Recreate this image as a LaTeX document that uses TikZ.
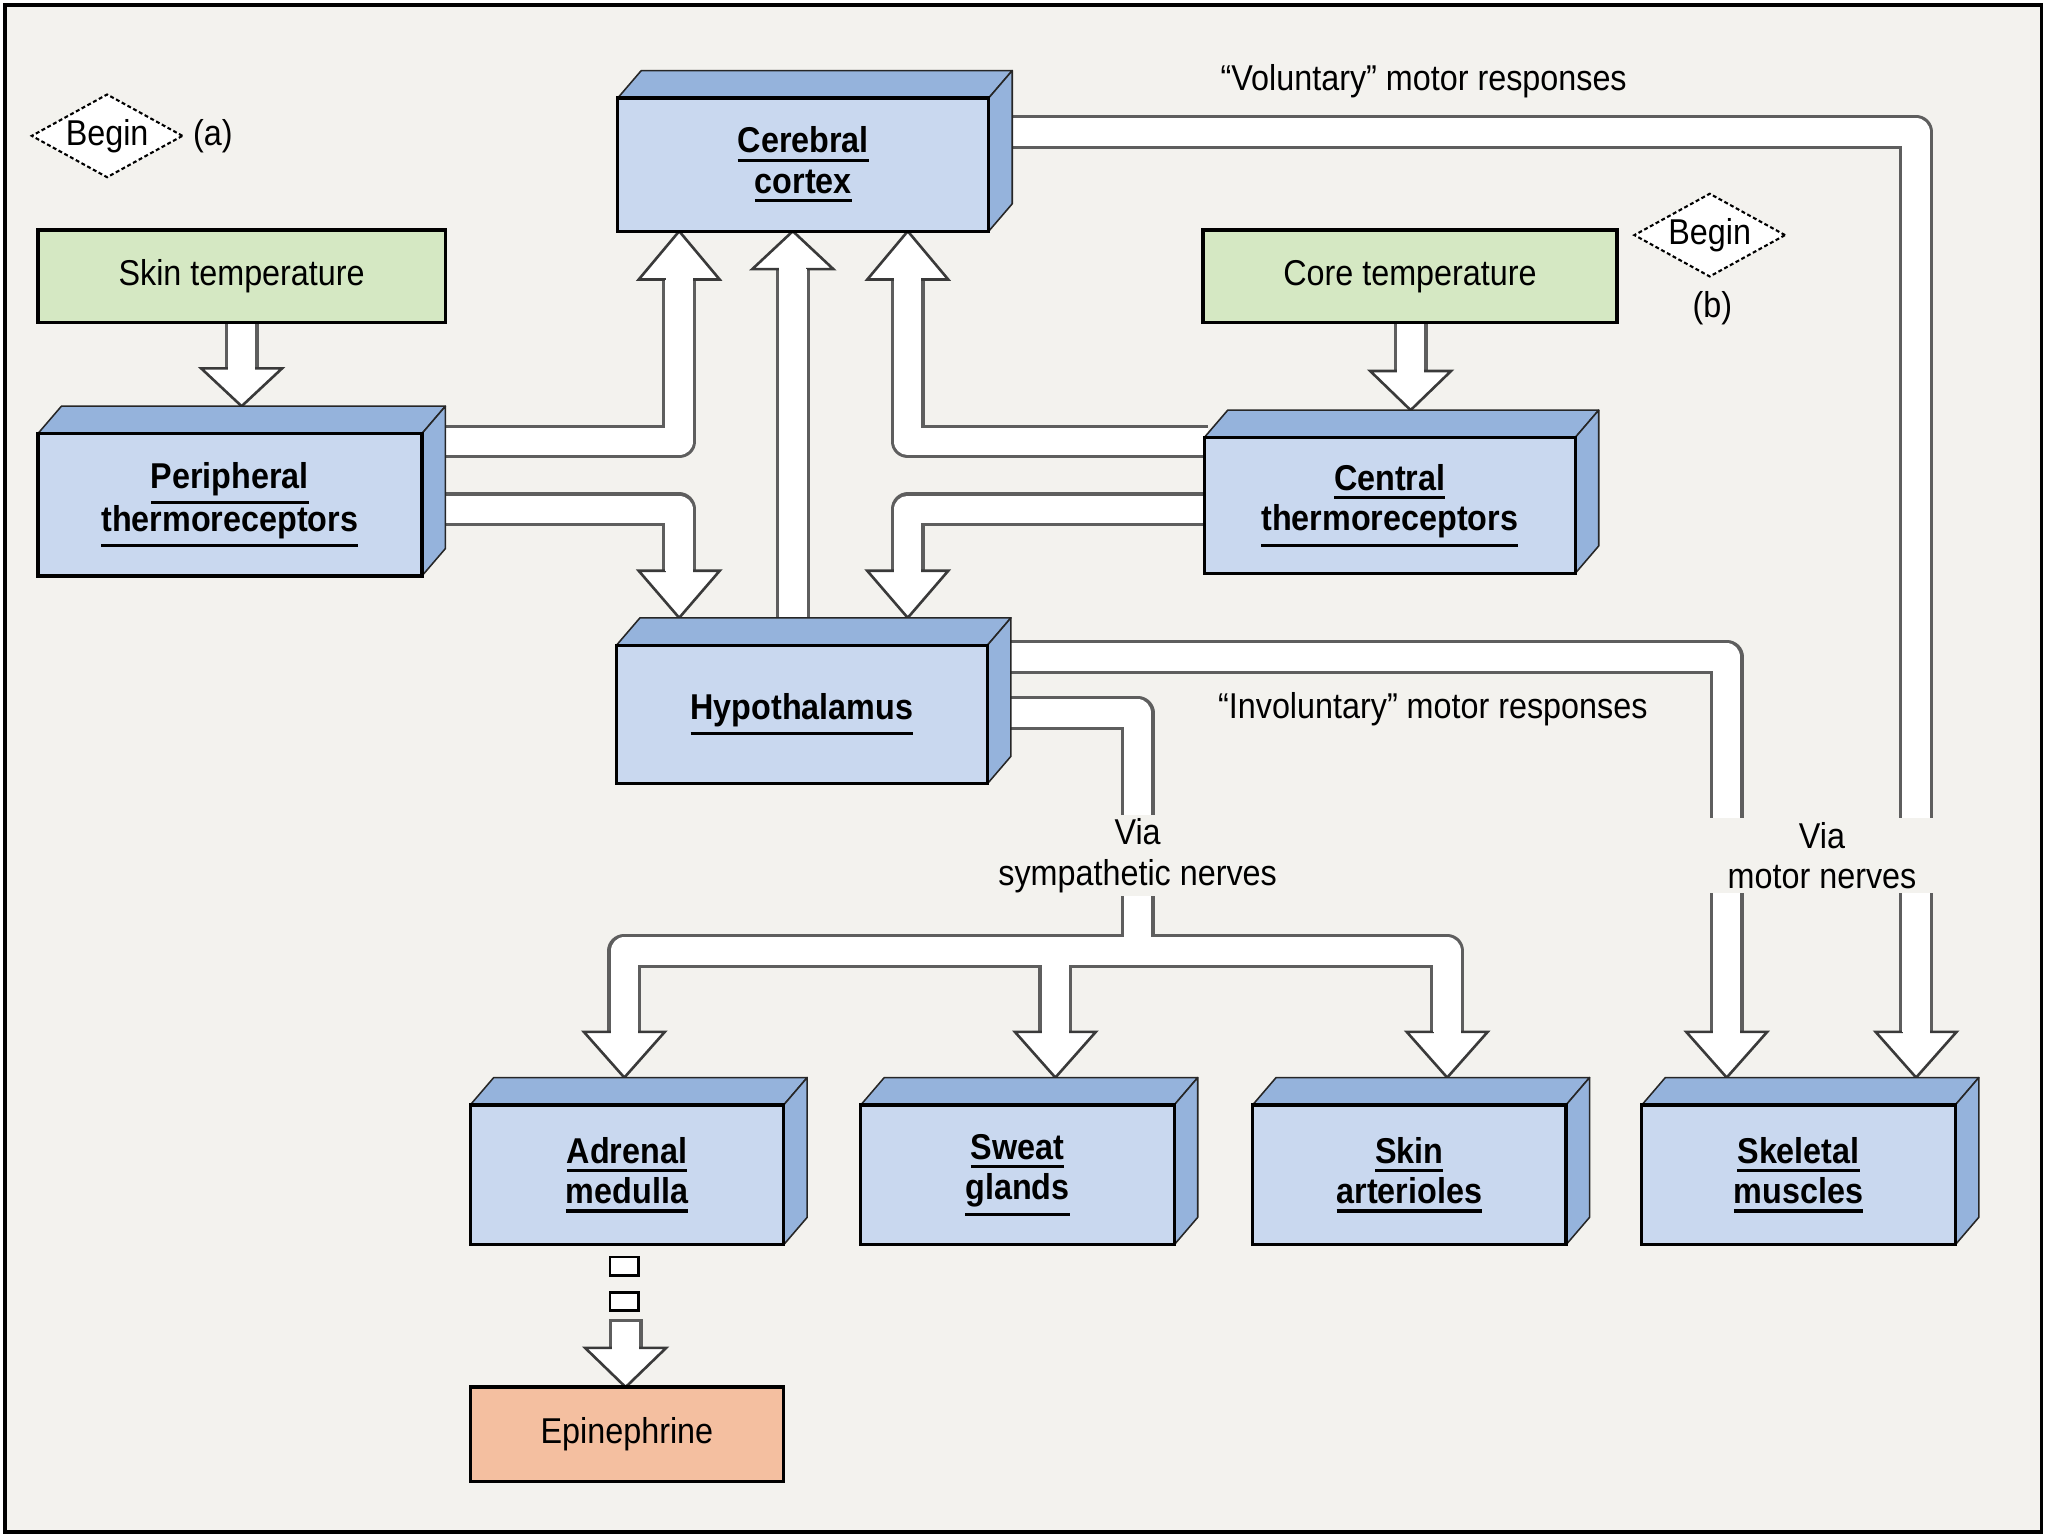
\documentclass[tikz,border=0pt]{standalone}
\usepackage{fontspec}
\setmainfont{Liberation Sans}[FakeStretch=0.9]
\usetikzlibrary{calc,shapes.geometric}
\definecolor{bgc}{HTML}{F3F2EE}
\definecolor{frontc}{HTML}{C9D8EF}
\definecolor{facec}{HTML}{95B3DC}
\definecolor{greenc}{HTML}{D5E8C3}
\definecolor{orangec}{HTML}{F4BFA0}
\definecolor{arrdark}{HTML}{5E5E5E}
\definecolor{arrhead}{HTML}{3A3A3A}
\pgfdeclarelayer{bglayer}
\pgfdeclarelayer{arrowlayer}
\pgfsetlayers{bglayer,arrowlayer,main}
\newcommand\ulbox[1]{\leavevmode\setbox0=\hbox{#1}\rlap{\rule[\dimexpr-\dp0-6.5pt\relax]{\wd0}{2.4pt}}\box0}
\newcommand\tdbox[5]{%
  \node[frontst, minimum width=#3pt, minimum height=#4pt] (#1) at (#2) {#5};
  \filldraw[facest] (#1.north west) -- ++(18,-21) -- ([shift={(18,-21)}]#1.north east) -- (#1.north east) -- cycle;
  \filldraw[facest] (#1.north east) -- ++(18,-21) -- ([shift={(18,-21)}]#1.south east) -- (#1.south east) -- cycle;
  \draw[line width=2.5pt] (#1.north west) rectangle (#1.south east);}
\newcommand\hdown[2]{\filldraw[headst] (#1) -- ++(-31,-#2) -- ++(62,0) -- cycle;
  \fill[white] ($(#1)+(-10.4,-#2-1.6)$) rectangle ($(#1)+(10.4,-#2+2)$);}
\newcommand\hup[2]{\filldraw[headst] (#1) -- ++(-31,#2) -- ++(62,0) -- cycle;
  \fill[white] ($(#1)+(-10.4,#2+1.6)$) rectangle ($(#1)+(10.4,#2-2)$);}
\begin{document}
\begin{tikzpicture}[x=1pt,y=-1pt,
  txt/.style={font=\fontsize{27.5pt}{31pt}\selectfont, align=center, inner sep=0pt},
  frontst/.style={rectangle, fill=frontc, inner sep=0pt, outer sep=0pt, align=center,
     font=\fontsize{27.5pt}{31pt}\selectfont\bfseries},
  facest/.style={fill=facec, draw=black!85, line width=1.2pt, line join=round},
  flatst/.style={txt, rectangle, draw=black, line width=2.5pt, outer sep=0pt},
  sqst/.style={rectangle, draw=black, line width=2pt, fill=white, minimum width=22pt, minimum height=14pt, inner sep=0pt},
  lab/.style={txt, fill=bgc, inner xsep=4pt, inner ysep=3pt},
  shO/.style={line width=26pt, draw=arrdark, line join=round},
  shI/.style={line width=21pt, draw=white, line join=round},
  headst/.style={fill=white, draw=arrhead, line width=2pt, line join=miter}]
\useasboundingbox (0,0) rectangle (1568,1176);
\begin{pgfonlayer}{bglayer}
\fill[white] (0,0) rectangle (1568,1176);
\draw[line width=3pt, fill=bgc] (4,4) rectangle (1563,1173);
\end{pgfonlayer}

% 3D boxes
\tdbox{cortex}{615,126}{284}{102}{\ulbox{Cerebral}\\\ulbox{cortex}}
\tdbox{periph}{176,386.5}{294}{109}{\ulbox{Peripheral}\\\ulbox{thermoreceptors}}
\tdbox{central}{1064,387}{284}{104}{\ulbox{Central}\\\ulbox{thermoreceptors}}
\tdbox{hypo}{614,547}{284}{106}{\ulbox{Hypothalamus}}
\tdbox{adrenal}{480,899.5}{240}{107}{\ulbox{Adrenal}\\\ulbox{medulla}}
\tdbox{sweat}{779,899.5}{240}{107}{\ulbox{Sweat}\\\ulbox{glands}}
\tdbox{skinart}{1079,899.5}{240}{107}{\ulbox{Skin}\\\ulbox{arterioles}}
\tdbox{skeletal}{1377,899.5}{240}{107}{\ulbox{Skeletal}\\\ulbox{muscles}}

% flat boxes
\node[flatst, fill=greenc, minimum width=312pt, minimum height=71pt] (skin) at (185,211.5) {Skin temperature};
\node[flatst, fill=greenc, minimum width=317pt, minimum height=71pt] (core) at (1079.5,211.5) {Core temperature};
\node[flatst, fill=orangec, minimum width=240pt, minimum height=72pt] (epi) at (480,1098) {Epinephrine};

% dashes below adrenal medulla
\node[sqst] (dash1) at (478,969.5) {};
\node[sqst] (dash2) at (478,996.5) {};

% begin markers
\node[diamond, draw=black, dash pattern=on 3pt off 2pt, line width=1.6pt, fill=white,
      minimum width=116pt, minimum height=64pt, inner sep=0pt, aspect=1.8, txt] (begina) at (82,104) {Begin};
\node[txt] (alab) at (163,104) {(a)};
\node[diamond, draw=black, dash pattern=on 3pt off 2pt, line width=1.6pt, fill=white,
      minimum width=116pt, minimum height=64pt, inner sep=0pt, aspect=1.8, txt] (beginb) at (1309,180) {Begin};
\node[txt] (blab) at (1311,236) {(b)};

% arrow tips
\coordinate (T1) at ($(periph.north)+(9,-21)$);
\coordinate (T2) at ($(central.north)+(16,-21)$);
\coordinate (T3) at ($(cortex.south west)+(47,0)$);
\coordinate (T4) at ($(hypo.north west)+(48,-21)$);
\coordinate (T5) at ($(cortex.south)+(-8,0)$);
\coordinate (T6) at ($(cortex.south west)+(222,0)$);
\coordinate (T7) at ($(hypo.north west)+(223,-21)$);
\coordinate (T8) at ($(skeletal.north west)+(210,-21)$);
\coordinate (T9) at ($(skeletal.north west)+(65,-21)$);
\coordinate (T10) at ($(adrenal.north west)+(118,-21)$);
\coordinate (T11) at ($(sweat.north west)+(149,-21)$);
\coordinate (T12) at ($(skinart.north west)+(149,-21)$);
\coordinate (T13) at ($(epi.north)+(-1,0)$);
\coordinate (J) at ($(T11)+(63,-97)$);

\begin{pgfonlayer}{arrowlayer}
% skin -> peripheral
\draw[shO] (skin.south) -- ($(T1)+(0,-29)$);
\hdown{T1}{29}
\draw[shI] (skin.south) -- ($(T1)+(0,-29)$);
% core -> central
\draw[shO] (T2 |- core.south) -- ($(T2)+(0,-30)$);
\hdown{T2}{30}
\draw[shI] (T2 |- core.south) -- ($(T2)+(0,-30)$);
% peripheral -> cortex
\draw[shO] ($(periph.north east)+(15,6)$) -| ($(T3)+(0,37)$);
\hup{T3}{37}
\draw[shI] ($(periph.north east)+(15,6)$) -| ($(T3)+(0,37)$);
% peripheral -> hypothalamus
\draw[shO] ($(periph.north east)+(15,58)$) -| ($(T4)+(0,-36)$);
\hdown{T4}{36}
\draw[shI] ($(periph.north east)+(15,58)$) -| ($(T4)+(0,-36)$);
% hypothalamus -> cortex
\draw[shO] ($(hypo.north)+(-7,-10)$) -- ($(T5)+(0,29)$);
\hup{T5}{29}
\draw[shI] ($(hypo.north)+(-7,-10)$) -- ($(T5)+(0,29)$);
% central -> cortex
\draw[shO] ($(central.north west)+(3,3)$) -| ($(T6)+(0,37)$);
\hup{T6}{37}
\draw[shI] ($(central.north west)+(3,3)$) -| ($(T6)+(0,37)$);
% central -> hypothalamus
\draw[shO] ($(central.north west)+(3,55)$) -| ($(T7)+(0,-36)$);
\hdown{T7}{36}
\draw[shI] ($(central.north west)+(3,55)$) -| ($(T7)+(0,-36)$);
% cortex -> skeletal (voluntary)
\draw[shO] ($(cortex.north east)+(15,26)$) -| ($(T8)+(0,-35)$);
\hdown{T8}{35}
\draw[shI] ($(cortex.north east)+(15,26)$) -| ($(T8)+(0,-35)$);
% hypothalamus -> skeletal (involuntary)
\draw[shO] ($(hypo.north east)+(14,9)$) -| ($(T9)+(0,-35)$);
\hdown{T9}{35}
\draw[shI] ($(hypo.north east)+(14,9)$) -| ($(T9)+(0,-35)$);
% hypothalamus -> sympathetic targets
\draw[shO] ($(hypo.north east)+(14,52)$) -| (J)
  ($(T10)+(0,-35)$) |- (J) -| ($(T12)+(0,-35)$)
  (T11 |- J) -- ($(T11)+(0,-35)$);
\hdown{T10}{35}
\hdown{T11}{35}
\hdown{T12}{35}
\draw[shI] ($(hypo.north east)+(14,52)$) -| (J)
  ($(T10)+(0,-35)$) |- (J) -| ($(T12)+(0,-35)$)
  (T11 |- J) -- ($(T11)+(0,-35)$);
% adrenal -> epinephrine
\draw[shO] ($(adrenal.south)+(-1,57)$) -- ($(T13)+(0,-30)$);
\hdown{T13}{30}
\draw[shI] ($(adrenal.south)+(-1,59.5)$) -- ($(T13)+(0,-30)$);
\end{pgfonlayer}

% labels
\node[lab] (vol) at (1090,62) {“Voluntary” motor responses};
\node[lab] (invol) at (1097,543) {“Involuntary” motor responses};
\node[lab] (viasym) at (871,655) {Via\\sympathetic nerves};
\node[lab, minimum width=180pt] (viamot) at (1395,655) {Via\\motor nerves};
\end{tikzpicture}
\end{document}
